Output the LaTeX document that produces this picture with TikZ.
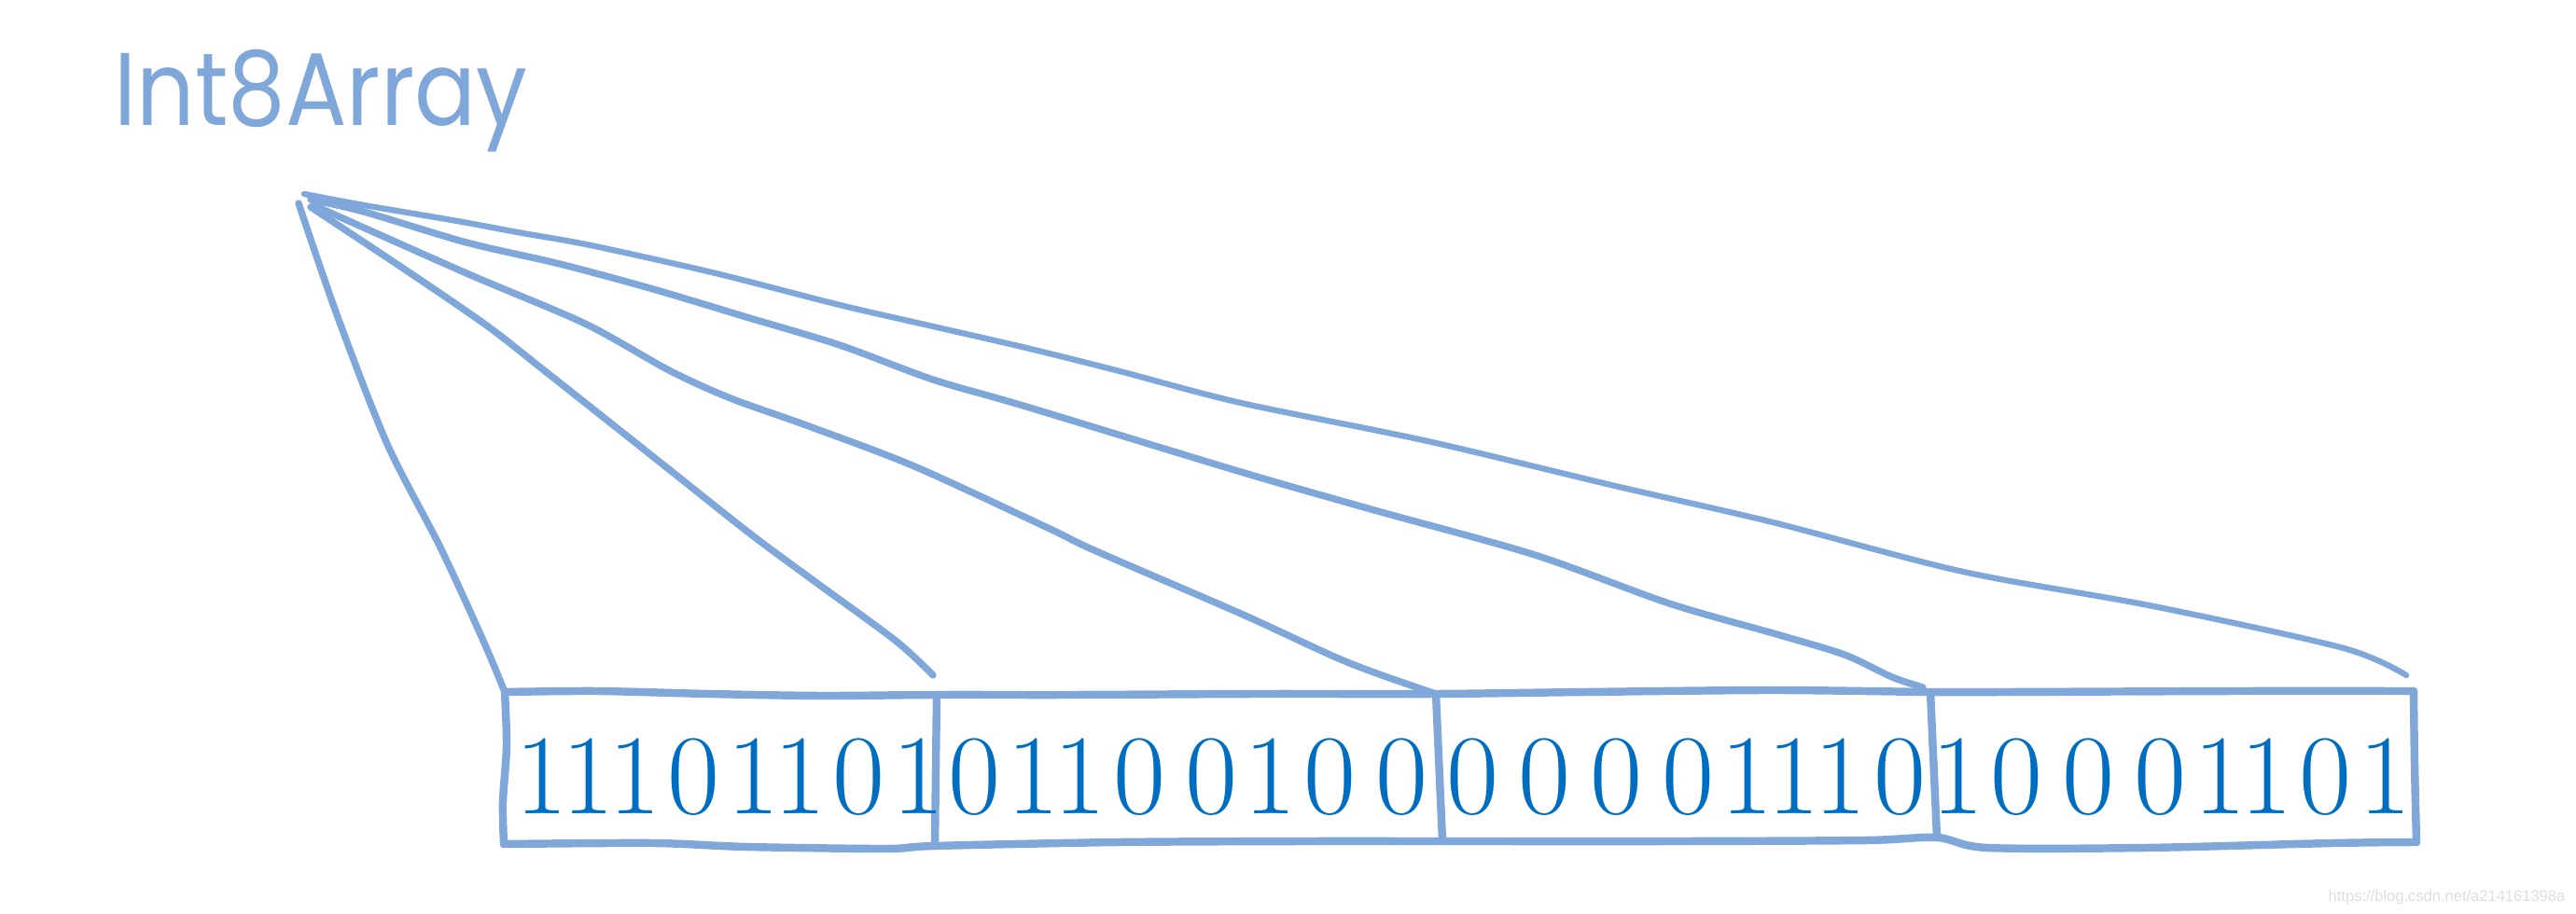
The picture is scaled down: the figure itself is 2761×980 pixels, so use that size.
\documentclass[tikz,border=0pt]{standalone}
\usepackage{fontspec}
\newfontfamily\titlefont{Poppins}
\newfontfamily\wmfont{Liberation Sans}
\definecolor{sketch}{RGB}{127,167,217}
\definecolor{bits}{RGB}{0,110,192}
\definecolor{wmgrey}{RGB}{222,222,222}
\begin{document}
\begin{tikzpicture}[x=0.01cm,y=-0.01cm,
  sketchline/.style={draw=sketch,line width=2.1pt,line cap=round,line join=round},
  thinsketch/.style={sketchline,line width=1.8pt},
  boxline/.style={draw=sketch,line width=2.4pt,line cap=round,line join=round},
  bit/.style={text=bits,font=\fontsize{34.7}{36}\selectfont,inner sep=0pt,anchor=base},
]
\useasboundingbox (0,0) rectangle (2761,980);

% title
\node[anchor=base west,inner sep=0pt,text=sketch,font=\titlefont\fontsize{31.5}{32}\selectfont] (title) at (122,135) {\scalebox{0.88}[1]{Int8Array}};

% box corners and dividers
\coordinate (tl) at (541,742);
\coordinate (bl) at (540,905);
\coordinate (tr) at (2587,741);
\coordinate (br) at (2590,903);
\coordinate (d1t) at (1004,745);
\coordinate (d1b) at (1002,907);
\coordinate (d2t) at (1539,744);
\coordinate (d2b) at (1546,902);
\coordinate (d3t) at (2069,742);
\coordinate (d3b) at (2076,898);

% connector ends
\coordinate (s0) at (320,218);
\coordinate (s1) at (333,222);
\coordinate (s2) at (336,220);
\coordinate (s3) at (333,214);
\coordinate (s4) at (326,208);
\coordinate (e1) at (1000,724);
\coordinate (e3) at (2061,737);
\coordinate (e4) at (2579,724);

% box
\draw[boxline] plot[smooth,tension=0.5] coordinates {(tl) (640,741) (760,744) (880,746) (d1t) (1150,745) (1350,744) (d2t) (1700,742) (1900,740) (d3t) (2150,742) (2400,741) (tr)};
\draw[boxline] plot[smooth,tension=0.5] coordinates {(bl) (700,904) (800,908) (950,910) (d1b) (1200,903) (1400,902) (d2b) (1800,902) (2000,901) (d3b) (2130,909) (2300,909) (2500,904) (br)};
\draw[boxline] plot[smooth,tension=0.5] coordinates {(tl) (543,800) (539,860) (bl)};
\draw[boxline] plot[smooth,tension=0.5] coordinates {(tr) (2588,820) (br)};
\draw[boxline] (d1t) -- (d1b);
\draw[boxline] (d2t) -- (d2b);
\draw[boxline] (d3t) -- (d3b);

% connectors
\draw[sketchline] plot[smooth,tension=0.5] coordinates {(s0) (362,340) (415,476) (472,587) (518,687) (tl)};
\draw[sketchline] plot[smooth,tension=0.5] coordinates {(s1) (440,293) (523,350) (583,397) (650,450) (713,500) (805,573) (874,624) (960,687) (e1)};
\draw[sketchline] plot[smooth,tension=0.5] coordinates {(s2) (500,293) (627,347) (717,397) (783,427) (867,457) (980,500) (1121,565) (1175,591) (1330,658) (1444,710) (d2t)};
\draw[sketchline] plot[smooth,tension=0.5] coordinates {(s3) (390,227) (500,260) (600,283) (700,310) (800,340) (900,370) (1000,407) (1100,436) (1330,506) (1473,547) (1645,595) (1789,647) (1904,680) (1977,702) (2028,726) (e3)};
\draw[thinsketch] plot[smooth,tension=0.5] coordinates {(s4) (390,220) (490,237) (560,250) (633,263) (767,293) (900,327) (1000,350) (1100,373) (1200,398) (1330,432) (1530,473) (1731,521) (1900,560) (2104,613) (2308,650) (2512,695) (e4)};

% bits
\foreach \x/\d [count=\i] in {580/1,630/1,680/1,743.5/0,807/1,857/1,920.5/0,984/1,
  1044/0,1107.5/1,1157.5/1,1221/0,1298/0,1361.5/1,1425/0,1502/0,
  1578/0,1655/0,1732/0,1809/0,1872.5/1,1922.5/1,1972.5/1,2036/0,
  2098/1,2161.5/0,2238.5/0,2315.5/0,2379/1,2429/1,2492.5/0,2556/1}
  \node[bit] (b\i) at (\x,873) {\d};

% watermark
\node[anchor=base east,inner sep=0pt,text=wmgrey,font=\wmfont\fontsize{4.7}{5}\selectfont] (wm) at (2750,966) {https://blog.csdn.net/a214161398a};
\end{tikzpicture}
\end{document}
